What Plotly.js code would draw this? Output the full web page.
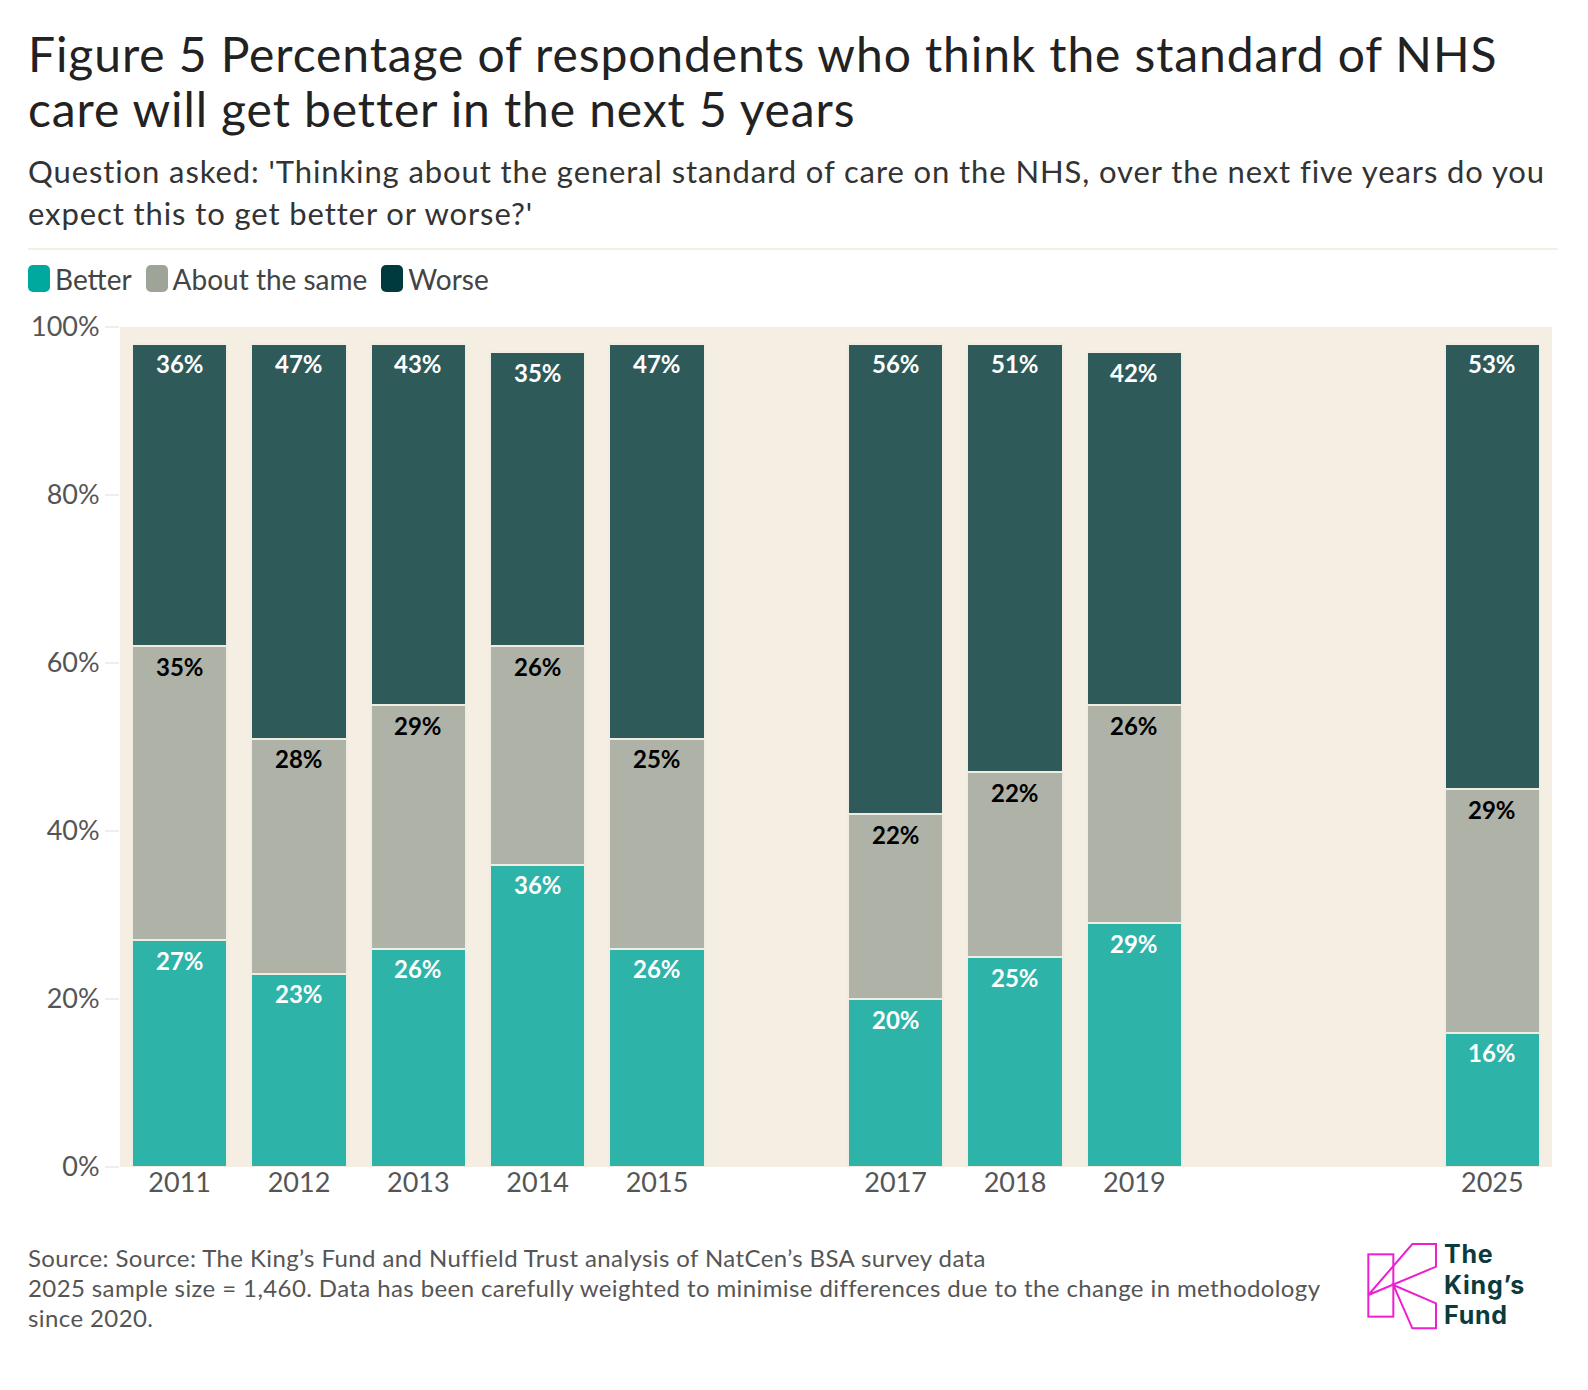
<!DOCTYPE html>
<html><head><meta charset="utf-8">
<script src="https://cdn.plot.ly/plotly-3.0.1.min.js"></script>
<style>
body{margin:0;background:#fff;font-family:Lato,"Noto Sans",sans-serif;}
#wrap{position:relative;width:1588px;height:1390px;overflow:hidden;background:#fff}
#chart{position:absolute;left:0;top:0;width:1588px;height:1390px}
.ov{position:absolute;white-space:nowrap}
#title{left:28px;top:26px;font-size:48px;line-height:55px;letter-spacing:0.9px;color:#222}
#sub{left:28px;top:150px;font-size:31px;line-height:42px;letter-spacing:0.9px;color:#333}
#divider{left:28px;top:248px;width:1530px;height:2px;background:#f3efe5}
#legend{left:28px;top:265px;height:27px;display:flex;align-items:center;font-size:28px;color:#444}
.li{display:flex;align-items:center;margin-right:14px}
.sw{width:22px;height:27px;border-radius:5px;margin-right:5px}
#source{left:28px;top:1243px;font-size:24px;line-height:30px;letter-spacing:0.4px;color:#555}
#logo{left:1340px;top:1220px}
#logotext{left:1444px;top:1239px;font-family:Inter,Lato,sans-serif;font-weight:700;font-size:25px;line-height:30.5px;letter-spacing:0.8px;color:#0b3b3c}
</style></head><body>
<div id="wrap">
<div id="chart"></div>
<div class="ov" id="title">Figure 5 Percentage of respondents who think the standard of NHS<br>care will get better in the next 5 years</div>
<div class="ov" id="sub">Question asked: 'Thinking about the general standard of care on the NHS, over the next five years do you<br>expect this to get better or worse?'</div>
<div class="ov" id="divider"></div>
<div class="ov" id="legend"></div>
<div class="ov" id="source">Source: Source: The King’s Fund and Nuffield Trust analysis of NatCen’s BSA survey data<br>2025 sample size = 1,460. Data has been carefully weighted to minimise differences due to the change in methodology<br>since 2020.</div>
<svg class="ov" id="logo" width="248" height="120" viewBox="0 0 744 360">
  <g fill="none" stroke="#ee1fcf" stroke-width="6" stroke-linejoin="miter">
    <rect x="85" y="103" width="75" height="187"/>
    <polygon points="217,72 288,72 288,140 85,225"/>
    <polygon points="160,195 288,250 288,325 217,325"/>
  </g>
</svg>
<div class="ov" id="logotext">The<br>King’s<br>Fund</div>
</div>
<script>
// Data
const years = ['2011','2012','2013','2014','2015','2017','2018','2019','2025'];
const better = [27,23,26,36,26,20,25,29,16];
const same   = [35,28,29,26,25,22,22,26,29];
const worse  = [36,47,43,35,47,56,51,42,53];
// Category slots (including empty years used as gaps) and tick labels
const slots = ['2011','2012','2013','2014','2015','2016','2017','2018','2019','2020','2021','2025'];
const yTicks = [0,20,40,60,80,100];
const yTickText = ['0%','20%','40%','60%','80%','100%'];

const seriesNames = ['Better','About the same','Worse'];
const barColors = ['#2db3a8','#aeb2a7','#2e5a5a'];
const legendColors = ['#00a99d','#9fa499','#003a3e'];
const labelColors = ['#ffffff','#000000','#ffffff'];
const seriesData = [better, same, worse];

const traces = seriesData.map((vals,i)=>({
  type:'bar', x:years, y:vals, name:seriesNames[i],
  marker:{color:barColors[i], line:{color:'#f1ece1', width:2}},
  hoverinfo:'none', showlegend:false
}));

const annotations = [];
const cum = years.map(()=>0);
seriesData.forEach((vals,i)=>{
  vals.forEach((v,j)=>{
    cum[j]+=v;
    annotations.push({x:slots.indexOf(years[j]), y:cum[j], xref:'x', yref:'y', text:'<b>'+v+'%</b>', showarrow:false,
      xanchor:'center', yanchor:'middle', yshift:-20, font:{family:'Lato', size:24, color:labelColors[i]}});
  });
});

const layout = {
  width:1588, height:1390,
  margin:{l:120, r:36, t:327, b:223, pad:0},
  paper_bgcolor:'rgba(0,0,0,0)', plot_bgcolor:'#f5eee3',
  barmode:'stack', bargap:0.2,
  font:{family:'Lato', color:'#555', size:27},
  xaxis:{type:'category', categoryorder:'array', categoryarray:slots, range:[-0.5, slots.length-0.5],
    tickmode:'array', tickvals:years, ticktext:years, ticks:'', showgrid:false, zeroline:false, showline:false,
    tickfont:{size:27, color:'#555'}, ticklabelstandoff:-3, fixedrange:true},
  yaxis:{range:[0,100], tickmode:'array', tickvals:yTicks, ticktext:yTickText, ticks:'outside', ticklen:14, tickwidth:2, tickcolor:'#eeeeee',
    showgrid:false, zeroline:false, showline:false, tickfont:{size:27, color:'#555'}, ticklabelstandoff:0, fixedrange:true},
  annotations:annotations,
  showlegend:false
};
Plotly.newPlot('chart', traces, layout, {displayModeBar:false, staticPlot:true});

// HTML legend built from series names/colours
const leg = document.getElementById('legend');
seriesNames.forEach((n,i)=>{
  const d=document.createElement('div'); d.className='li';
  d.innerHTML='<span class="sw" style="background:'+legendColors[i]+'"></span><span>'+n+'</span>';
  leg.appendChild(d);
});
</script>
</body></html>
